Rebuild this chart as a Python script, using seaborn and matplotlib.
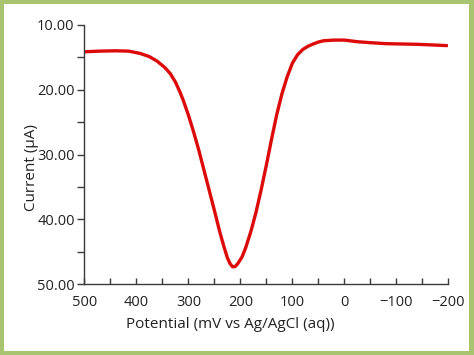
import numpy as np
import pandas as pd
import matplotlib
matplotlib.use('Agg')
import matplotlib.pyplot as plt
import seaborn as sns
from matplotlib.patches import Rectangle
from matplotlib.ticker import MultipleLocator, FormatStrFormatter

# Data
potential = [500, 470, 440, 415, 393, 375, 360, 345, 335, 325, 316, 310,
             300, 290, 280, 270, 260, 250, 240, 232, 225, 220, 215, 210,
             205, 197, 190, 180, 170, 160, 150, 140, 130, 120, 110, 100,
             90, 80, 70, 60, 50, 40, 20, 0, -25, -50, -80, -110, -140, -170, -197]
current = [14.15, 14.05, 14.0, 14.05, 14.4, 14.9, 15.6, 16.6, 17.5, 18.8, 20.4, 21.6,
           23.9, 26.5, 29.3, 32.4, 35.5, 38.6, 41.8, 44.1, 45.9, 46.8, 47.3, 47.25,
           46.8, 45.8, 44.4, 41.9, 38.9, 35.4, 31.6, 27.6, 23.8, 20.6, 18.0, 15.9,
           14.6, 13.8, 13.3, 12.95, 12.65, 12.45, 12.35, 12.35, 12.6, 12.75, 12.9, 12.95, 13.0, 13.1, 13.2]

df = pd.DataFrame({'potential': potential, 'current': current})

sns.set_style('ticks')
plt.rcParams['font.family'] = ['Open Sans', 'DejaVu Sans']

fig = plt.figure(figsize=(4.74, 3.55), dpi=100)
fig.patch.set_facecolor('#a8c46e')
fig.patches.append(Rectangle((4 / 474, 4 / 355), 1 - 9 / 474, 1 - 8 / 355,
                             transform=fig.transFigure, facecolor='white',
                             edgecolor='none', zorder=-1))
ax = fig.add_axes([0.178, 0.199, 0.768, 0.731])
ax.set_facecolor('none')

sns.lineplot(data=df, x='potential', y='current', sort=False, estimator=None,
             color='#dd0a0a', linewidth=2.4, ax=ax)

ax.set_xlim(500, -200)
ax.set_ylim(50, 10)
ax.xaxis.set_major_locator(MultipleLocator(100))
ax.xaxis.set_minor_locator(MultipleLocator(50))
ax.yaxis.set_major_locator(MultipleLocator(10))
ax.yaxis.set_minor_locator(MultipleLocator(5))
ax.yaxis.set_major_formatter(FormatStrFormatter('%.2f'))
ax.xaxis.set_major_formatter(lambda v, pos: f'{v:.0f}'.replace('-', '\u2212'))

for s in ['top', 'right']:
    ax.spines[s].set_visible(False)
for s in ['left', 'bottom']:
    ax.spines[s].set_color('#3a3a3a')
    ax.spines[s].set_linewidth(1.0)

ax.tick_params(axis='x', which='both', direction='in', length=4, width=1,
               color='#3a3a3a', labelsize=10.5, labelcolor='#222222', pad=8)
ax.tick_params(axis='y', which='both', direction='out', length=5, width=1,
               color='#3a3a3a', labelsize=10.5, labelcolor='#222222', pad=2)

ax.set_xlabel('Potential (mV vs Ag/AgCl (aq))', fontsize=11, color='#222222')
ax.set_ylabel('Current (\u03bcA)', fontsize=11, color='#222222')
ax.xaxis.set_label_coords(0.40, -0.125)
ax.yaxis.set_label_coords(-0.124, 0.45)

fig.savefig('out.png', dpi=100)
